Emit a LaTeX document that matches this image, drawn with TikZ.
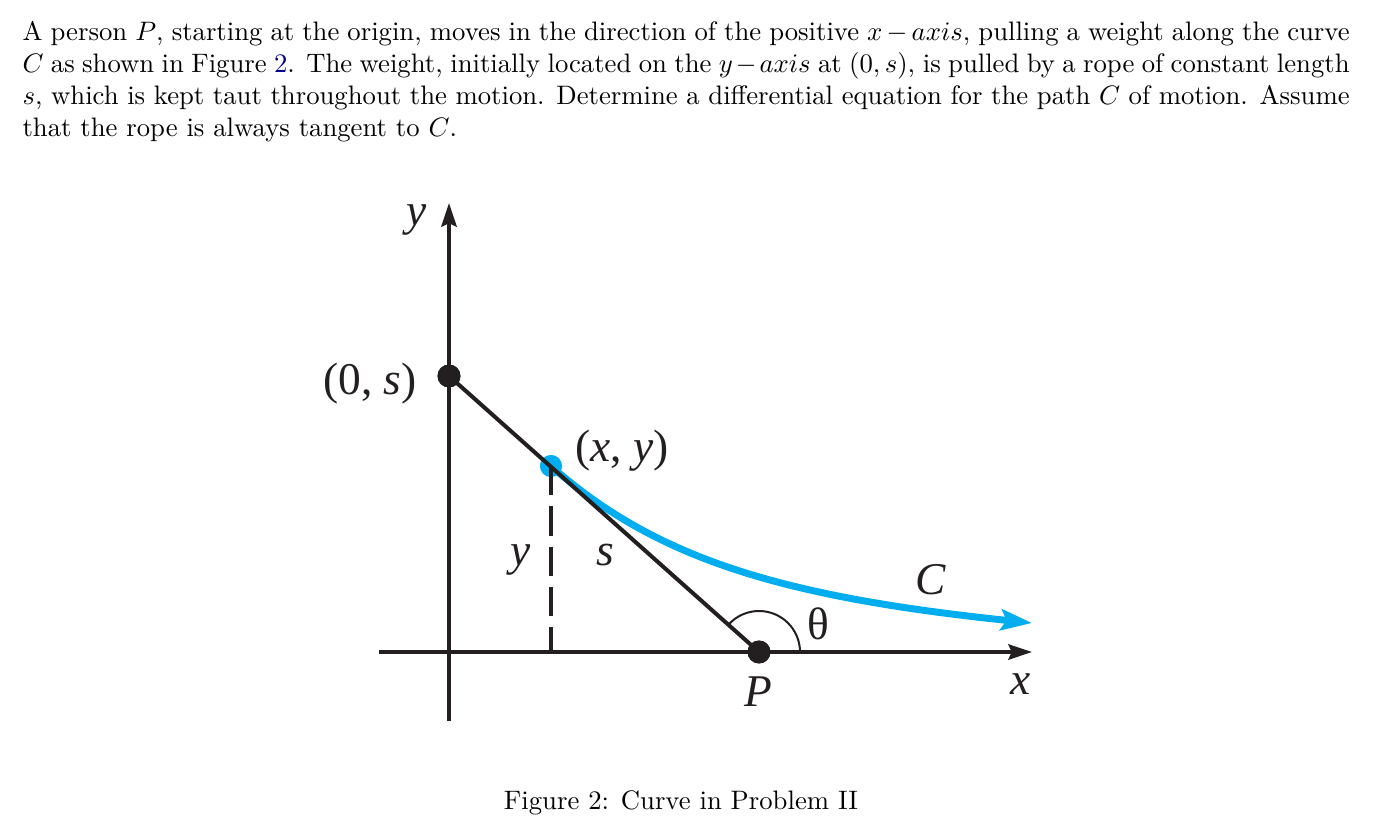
\documentclass[tikz,border=0pt]{standalone}
\usepackage{fontspec}
\newfontfamily\lab{LiberationSerif}[Extension=.ttf, UprightFont=*-Regular, ItalicFont=*-Italic]
\usetikzlibrary{arrows.meta}
\definecolor{cblue}{RGB}{0,174,239}
\definecolor{ink}{RGB}{35,31,32}
\definecolor{linkblue}{RGB}{0,0,140}
\begin{document}
\begin{tikzpicture}[x=0.3745pt,y=-0.3745pt,
  txt/.style={font=\fontsize{10}{12}\selectfont, inner sep=0pt, anchor=base west},
  lbl/.style={font=\lab\fontsize{17}{20}\selectfont, inner sep=0pt, text=ink},
  axisline/.style={line width=1.5pt, draw=ink, -{Stealth[length=8.8pt,width=5.7pt,inset=1.2pt]}},
  ropeline/.style={line width=1.5pt, draw=ink},
  dashline/.style={line width=1.45pt, draw=ink, dash pattern=on 11pt off 4.1pt},
  curveline/.style={line width=2.6pt, draw=cblue, -{Stealth[length=11.6pt,width=7.8pt,inset=2pt]}},
  arcline/.style={line width=0.75pt, draw=ink},
  bdot/.style={circle, fill=ink, minimum size=8.6pt, inner sep=0pt},
  cdot/.style={circle, fill=cblue, minimum size=8.3pt, inner sep=0pt}]
\useasboundingbox (0,0) rectangle (1383,836);

% paragraph
\node[txt] (l1) at (22,40) {\makebox[497pt][s]{A person $P$, starting at the origin, moves in the direction of the positive $x-axis$, pulling a weight along the curve}};
\node[txt] (l2) at (22,72) {\makebox[497pt][s]{$C$ as shown in Figure \textcolor{linkblue}{2}. The weight, initially located on the $y-axis$ at $(0,s)$, is pulled by a rope of constant length}};
\node[txt] (l3) at (22,104) {\makebox[497pt][s]{$s$, which is kept taut throughout the motion. Determine a differential equation for the path $C$ of motion. Assume}};
\node[txt] (l4) at (22,136) {that the rope is always tangent to $C$.};

% caption
\node[txt, anchor=base] (cap) at (681,809) {Figure 2: Curve in Problem II};

% coordinates
\coordinate (ybot) at (449,721);
\coordinate (ytop) at (449,203);
\coordinate (xl) at (379,652);
\coordinate (xr) at (1032,652);
\coordinate (F) at (551,652);
\coordinate (Cend) at (1032,623);

% axes
\draw[axisline] (ybot) -- (ytop);
\draw[axisline] (xl) -- (xr);

% weight and curve
\node[cdot] (W) at (551,466) {};
\draw[curveline] (W.center) .. controls (656,559) and (783,597) .. (Cend);

% dashed height
\draw[dashline] (W.center) -- (F);

% rope
\node[bdot] (S) at (449,376) {};
\node[bdot] (P) at (759,652) {};
\draw[ropeline] (S.center) -- (P.center);
\node[bdot] at (S.center) {};
\node[bdot] at (P.center) {};

% angle arc
\draw[arcline] ([shift={(41,0)}]P.center) arc[start angle=0, end angle=-137, radius=41];

% labels
\node[lbl] (ylab) at (417,220) {\itshape y};
\node[lbl] (slab) at (370,384) {(0, {\itshape s})};
\node[lbl] (wlab) at (622,451) {({\itshape x}, {\itshape y})};
\node[lbl] (hlab) at (521,560) {\itshape y};
\node[lbl] (rlab) at (605,555) {\itshape s};
\node[lbl] (tlab) at (818,624) {θ};
\node[lbl] (clab) at (931,580) {\itshape C};
\node[lbl] (plab) at (758,692) {\itshape P};
\node[lbl] (xlab) at (1021,684) {\itshape x};
\end{tikzpicture}
\end{document}
